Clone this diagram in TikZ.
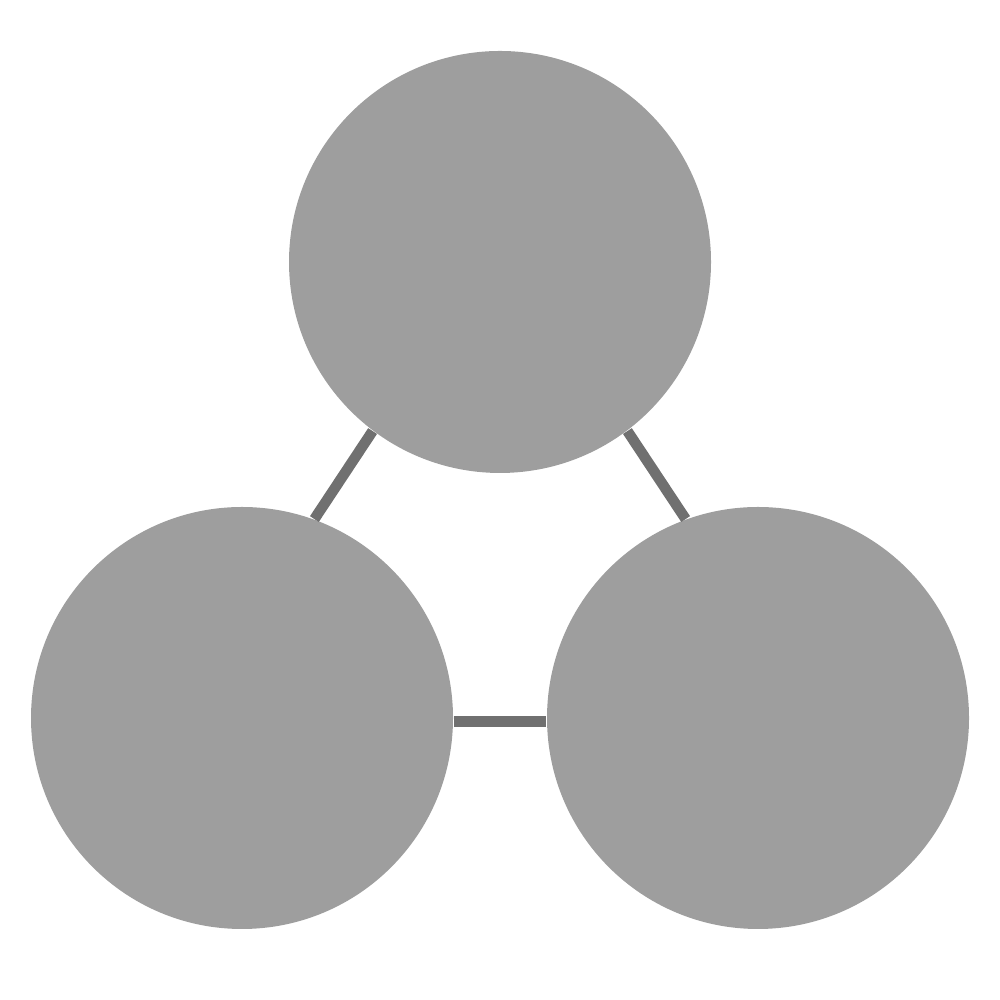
\documentclass[tikz,border=0pt]{standalone}
\usepackage{xcolor}
\usepackage{tikz}
\usetikzlibrary{positioning}
\definecolor{ballgrey}{HTML}{9E9E9E}
\definecolor{linkgrey}{HTML}{707070}

\begin{document}
\begin{tikzpicture}
\tikzstyle{ball}=[circle, fill=ballgrey, draw=none, inner sep=0pt, minimum size=4.22cm]
\tikzstyle{link}=[draw=linkgrey, line width=3pt]
\useasboundingbox (0,0) rectangle (10,10);

\node[ball] (top) at (5,7.38) {};
\node[ball] (left) at (2.42,2.82) {};
\node[ball] (right) at (7.58,2.82) {};

\draw[link] (top.233) -- (left.70);
\draw[link] (top.307) -- (right.110);
\draw[link] (left.359) -- (right.181);
\end{tikzpicture}
\end{document}
